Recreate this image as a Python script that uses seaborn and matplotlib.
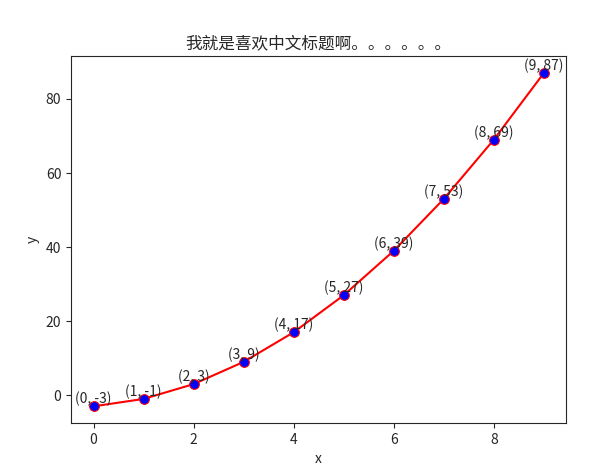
import matplotlib
matplotlib.use("Agg")
import matplotlib.pyplot as plt
import seaborn as sns

xs = [0, 1, 2, 3, 4, 5, 6, 7, 8, 9]
ys = [-3, -1, 3, 9, 17, 27, 39, 53, 69, 87]
title = "我就是喜欢中文标题啊。。。。。。"

sns.set_style("ticks")
plt.rcParams['font.family'] = ['Noto Sans CJK SC', 'DejaVu Sans']
plt.rcParams['axes.unicode_minus'] = False

fig, ax = plt.subplots(figsize=(6.07, 4.7), dpi=100)
sns.lineplot(x=xs, y=ys, ax=ax, color='red', marker='o', markersize=7,
             markerfacecolor='blue', markeredgecolor='red')
for x, y in zip(xs, ys):
    ax.text(x, y, f"({x}, {y})", ha='center', va='bottom', fontsize=10)
ax.set_title(title, fontsize=12)
ax.set_xlabel("x")
ax.set_ylabel("y")
fig.subplots_adjust(left=0.117, right=0.933, bottom=0.1, top=0.88)
fig.savefig("out.png")
